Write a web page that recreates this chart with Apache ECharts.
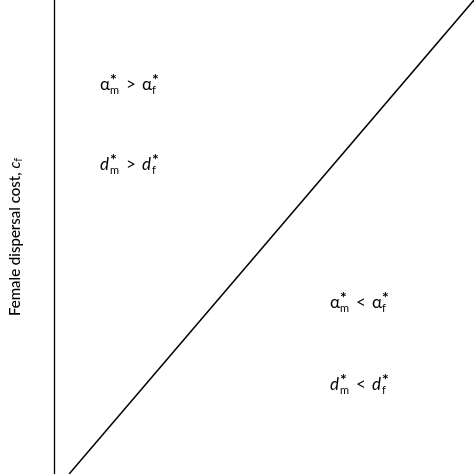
<!DOCTYPE html>
<html>
<head>
<meta charset="utf8">
<script src="https://cdn.jsdelivr.net/npm/echarts@6/dist/echarts.min.js"></script>
<style>body{margin:0}</style>
</head>
<body>
<div id="main" style="width:474px;height:474px;"></div>
<script>
// boundary line between the two regions (male cost, female cost)
var boundaryX = [0.036, 1];
var boundaryY = [0, 1];
var yName = 'Female dispersal cost, ';
var labels = [
  {sym: 'α', op: '>', left: 100, top: 72, italic: false},
  {sym: 'd', op: '>', left: 100, top: 152, italic: true},
  {sym: 'α', op: '<', left: 330, top: 290, italic: false},
  {sym: 'd', op: '<', left: 330, top: 372, italic: true}
];

var chart = echarts.init(document.getElementById('main'));
var font = 'Lato, "DejaVu Sans", sans-serif';

function term(sym, sub, italic, x) {
  return [
    {type: 'text', x: x, y: 0, style: {text: sym, font: (italic ? 'italic ' : '') + '17px ' + font, fill: '#000'}},
    {type: 'text', x: x + 10, y: -4, style: {text: '*', font: 'bold 16px ' + font, fill: '#000'}},
    {type: 'text', x: x + 10, y: 9, style: {text: sub, font: '11px ' + font, fill: '#000'}}
  ];
}
var graphic = labels.map(function (l) {
  var ch = [].concat(term(l.sym, 'm', l.italic, 0));
  ch.push({type: 'text', x: 26, y: 0, style: {text: l.op, font: '17px ' + font, fill: '#000'}});
  ch = ch.concat(term(l.sym, 'f', l.italic, 42));
  return {type: 'group', left: l.left, top: l.top, children: ch};
});

chart.setOption({
  animation: false,
  backgroundColor: '#fff',
  grid: {left: 53, right: 0, top: 0, bottom: 0},
  xAxis: {type: 'value', min: 0, max: 1, show: false},
  yAxis: {
    type: 'value', min: 0, max: 1,
    axisLine: {show: true, lineStyle: {color: '#000', width: 1.3}},
    axisTick: {show: false}, axisLabel: {show: false}, splitLine: {show: false},
    name: '{a|' + yName + '}{b|c}{s|f}',
    nameLocation: 'middle', nameGap: 30,
    nameTextStyle: {
      rich: {
        a: {fontSize: 15, fontFamily: font, fontWeight: 500, color: '#000'},
        b: {fontSize: 15, fontFamily: font, fontStyle: 'italic', color: '#000'},
        s: {fontSize: 11, fontFamily: font, color: '#000', padding: [6, 0, 0, 0]}
      }
    }
  },
  graphic: graphic,
  series: [{
    type: 'line',
    data: boundaryX.map(function (x, i) { return [x, boundaryY[i]]; }),
    symbol: 'none',
    lineStyle: {color: '#000', width: 1.5}
  }]
});
</script>
</body>
</html>
